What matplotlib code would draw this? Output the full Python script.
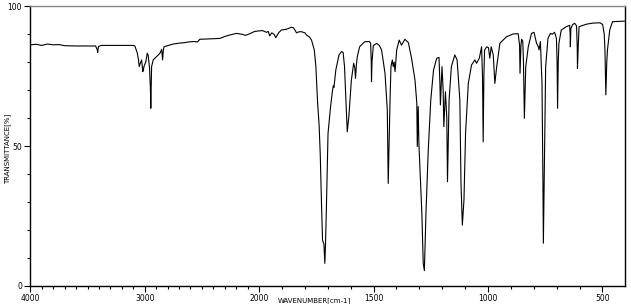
import numpy as np
import matplotlib
matplotlib.use('Agg')
import matplotlib.pyplot as plt
from matplotlib.ticker import FixedLocator

# IR spectrum (wavenumber in cm-1, transmittance in %)
wavenumber = [
    4000, 3950, 3900, 3850, 3800, 3750, 3700, 3600, 3500, 3430, 3415, 3411, 3405,
    3380, 3300, 3200, 3100, 3086, 3065, 3055, 3048, 3040, 3027, 3020, 3018, 3012,
    3007, 2990, 2978, 2970, 2958, 2950, 2947, 2943, 2940, 2926, 2896, 2867, 2852,
    2846, 2844, 2838, 2832, 2809, 2751, 2700, 2650, 2605, 2560, 2540, 2518, 2450,
    2400, 2343, 2300, 2250, 2197, 2150, 2120, 2081, 2040, 2000, 1985, 1968, 1960,
    1954, 1945, 1935, 1927, 1915, 1903, 1880, 1859, 1850, 1840, 1837, 1825, 1815,
    1800, 1793, 1780, 1771, 1759, 1752, 1745, 1738, 1733, 1728, 1723, 1720, 1717,
    1713, 1710, 1706, 1699, 1688, 1680, 1676, 1673, 1665, 1651, 1640, 1633, 1627,
    1619, 1615, 1608, 1597, 1587, 1582, 1579, 1575, 1571, 1561, 1539, 1519, 1513,
    1510, 1509, 1507, 1501, 1486, 1475, 1465, 1450, 1440, 1436, 1431, 1428, 1424,
    1418, 1414, 1410, 1406, 1399, 1388, 1378, 1363, 1348, 1334, 1319, 1311, 1309,
    1305, 1302, 1295, 1289, 1283, 1278, 1271, 1261, 1250, 1238, 1224, 1214, 1210,
    1208, 1201, 1196, 1193, 1186, 1180, 1177, 1173, 1170, 1160, 1145, 1135, 1123,
    1118, 1112, 1105, 1098, 1086, 1072, 1057, 1050, 1038, 1028, 1024, 1021, 1018,
    1015, 1006, 998, 992, 986, 977, 970, 962, 948, 919, 890, 868, 862, 860, 856,
    853, 848, 845, 841, 837, 835, 824, 810, 799, 788, 780, 777, 771, 764, 760,
    758, 755, 752, 748, 738, 727, 719, 709, 701, 698, 696, 693, 690, 680, 658,
    643, 641, 640, 638, 630, 621, 613, 610, 609, 606, 602, 570, 540, 511, 499,
    492, 489, 485, 481, 478, 468, 456, 400,
]
transmittance = [
    86.2, 86.4, 86.0, 86.5, 86.2, 86.3, 85.9, 85.8, 85.8, 85.8, 84.5, 83.5, 85.6,
    86.0, 86.0, 86.0, 86.0, 85.8, 83.3, 81.0, 78.4, 79.5, 80.8, 78.0, 76.6, 77.0,
    78.4, 80.2, 83.2, 82.5, 78.0, 70.0, 63.5, 72.0, 78.4, 80.8, 82.0, 83.2, 84.6,
    82.0, 80.8, 84.0, 85.5, 85.8, 86.5, 86.8, 87.0, 87.3, 87.4, 87.2, 88.2, 88.3,
    88.4, 88.5, 89.2, 89.8, 90.3, 90.0, 89.6, 90.2, 91.0, 91.2, 91.3, 90.7, 91.0,
    89.4, 90.5, 90.0, 88.8, 90.5, 91.5, 91.8, 92.5, 92.3, 91.0, 90.5, 90.9, 90.9,
    90.5, 89.7, 89.0, 87.9, 84.3, 78.4, 66.0, 57.5, 47.0, 30.7, 16.4, 15.5, 15.0,
    8.0, 15.0, 28.3, 54.5, 64.0, 69.5, 71.5, 71.0, 77.2, 82.6, 83.8, 83.5, 78.4,
    62.9, 55.1, 60.5, 73.6, 79.6, 78.0, 74.2, 79.0, 82.0, 85.5, 87.3, 87.4, 86.8,
    80.0, 73.0, 80.0, 86.0, 86.7, 86.0, 84.4, 76.0, 62.9, 36.6, 55.0, 66.5, 78.4,
    80.8, 78.4, 80.0, 76.6, 84.4, 87.9, 86.1, 88.2, 87.0, 81.4, 73.6, 65.3, 49.8,
    64.1, 51.0, 37.8, 25.9, 8.0, 5.4, 26.0, 48.6, 66.5, 77.2, 81.4, 81.7, 72.0,
    64.7, 78.4, 70.0, 56.9, 69.4, 60.0, 37.2, 55.0, 66.5, 78.4, 82.6, 80.8, 66.5,
    36.7, 21.7, 30.7, 54.6, 72.4, 79.0, 80.8, 79.6, 81.4, 85.5, 75.0, 51.5, 75.0,
    84.3, 85.5, 85.2, 81.4, 85.5, 82.6, 72.4, 78.4, 86.8, 89.1, 90.1, 90.2, 86.0, 76.0, 86.0,
    88.2, 87.5, 80.0, 59.9, 72.0, 78.4, 85.5, 90.3, 90.7, 86.8, 85.5, 84.4, 87.4, 72.4, 37.8,
    15.2, 35.0, 54.5, 78.4, 88.5, 90.3, 90.0, 90.7, 88.5, 80.0, 63.5, 80.0, 86.8, 91.5, 92.7,
    93.2, 90.0, 85.5, 92.0, 93.5, 93.9, 93.0, 85.0, 77.8, 85.0, 92.7, 93.6, 94.0, 94.1, 93.5,
    90.0, 84.4, 68.3, 80.0, 84.4, 91.5, 94.5, 94.7,
]

x_major = [4000, 3000, 2000, 1500, 1000, 500]
y_major = [0, 50, 100]


# the spectrum is drawn with twice the scale below 2000 cm-1
def fwd(w):
    w = np.asarray(w, dtype=float)
    return np.where(w > 2000, w - 2000, 2 * (w - 2000))


def inv(u):
    u = np.asarray(u, dtype=float)
    return np.where(u > 0, u + 2000, u / 2 + 2000)


fig = plt.figure(figsize=(6.31, 3.04), dpi=100)
ax = fig.add_axes([30.3 / 631, 18.3 / 304, 595 / 631, 279.4 / 304])
ax.set_xscale('function', functions=(fwd, inv))
ax.plot(wavenumber, transmittance, color='black', linewidth=0.8)
ax.set_xlim(4000, 400)
ax.set_ylim(0, 100)

# Frame: grey line at the top, black on the other sides
ax.spines['top'].set_color('#888888')
ax.spines['top'].set_linewidth(1.0)
for side in ['left', 'bottom', 'right']:
    ax.spines[side].set_color('black')
    ax.spines[side].set_linewidth(1.0)

ax.xaxis.set_major_locator(FixedLocator(x_major))
ax.xaxis.set_minor_locator(FixedLocator([w for w in range(3900, 400, -100) if w not in x_major]))
ax.set_xticklabels([str(v) for v in x_major])
ax.yaxis.set_major_locator(FixedLocator(y_major))
ax.yaxis.set_minor_locator(FixedLocator([v for v in range(10, 100, 10) if v != 50]))
ax.set_yticklabels([str(v) for v in y_major])

ax.tick_params(axis='both', which='major', length=4, width=0.8, labelsize=5.5, pad=2)
ax.tick_params(axis='both', which='minor', length=2, width=0.8)

ax.set_xlabel('WAVENUMBER[cm-1]', fontsize=5)
ax.xaxis.set_label_coords(0.477, -0.042)
ax.set_ylabel('TRANSMITTANCE[%]', fontsize=5)
ax.yaxis.set_label_coords(-0.032, 0.49)

plt.savefig('out.png', dpi=100)
